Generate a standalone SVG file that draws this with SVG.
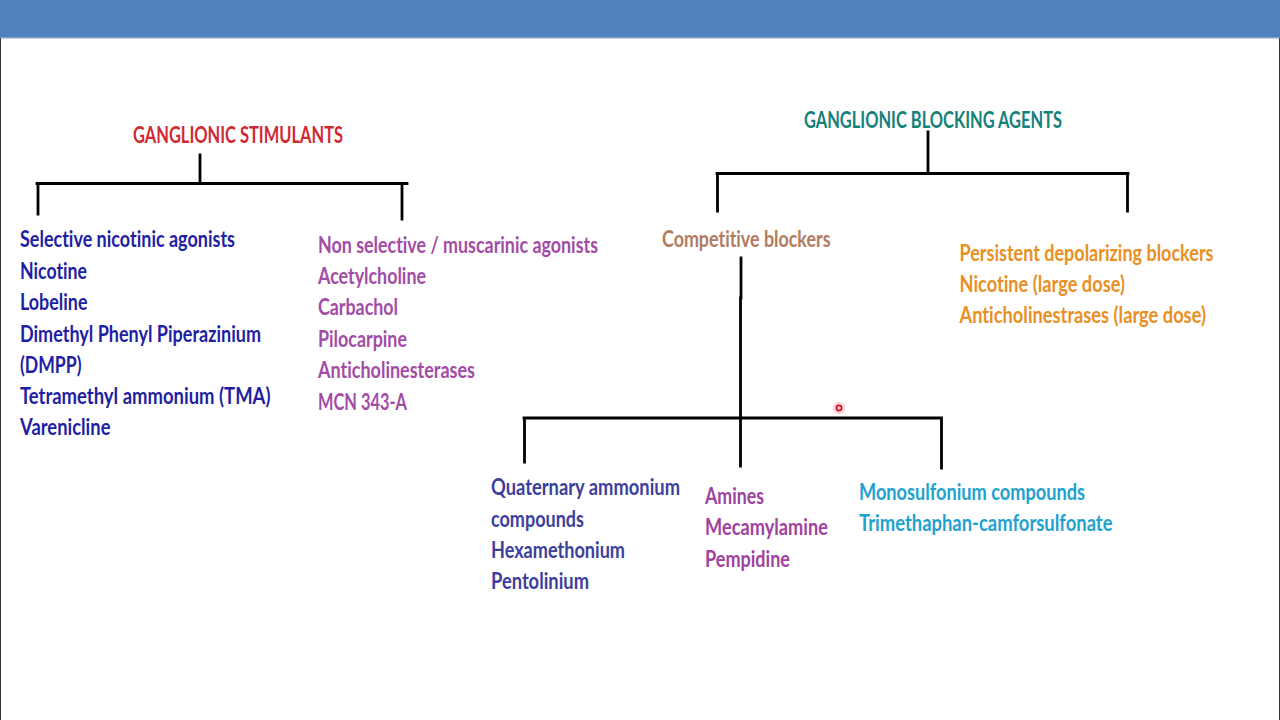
<svg xmlns="http://www.w3.org/2000/svg" width="1280" height="720" viewBox="0 0 1280 720">
<style>
text{font-family:Lato,"Liberation Sans",sans-serif;font-weight:bold;font-size:22px;font-variant-ligatures:none}
.ln{stroke:#000;stroke-width:2.8;fill:none;stroke-linecap:square}
.red{fill:#cf2a33}.teal{fill:#15817a}.navy{fill:#1f1fa3}.purp{fill:#a24ca6}
.brown{fill:#b27c60}.orange{fill:#e98f24}.slate{fill:#3c3f9c}.mag{fill:#a042a0}.cyan{fill:#1ea2cf}
</style>
<rect x="0" y="0" width="1280" height="720" fill="#fff"/>
<rect x="0" y="0" width="1280" height="38" fill="#4f81bd"/>
<rect x="0" y="37" width="1280" height="1.5" fill="#7ea3cc"/>
<line x1="0.5" y1="38" x2="0.5" y2="720" stroke="#333" stroke-width="1"/>
<line x1="1279.5" y1="38" x2="1279.5" y2="720" stroke="#333" stroke-width="1"/>

<g id="connectors">
<path class="ln" d="M200 155 V183.5 M37 183.5 H407 M38 183.5 V214 M402 183.5 V219"/>
<path class="ln" d="M928 132 V173.5 M717 173.5 H1128 M717.5 173.5 V211 M1127.5 173.5 V211"/>
<path class="ln" d="M741 258 V298 M740.5 298 V418"/>
<path class="ln" d="M524 418 H941.5 M524.5 418 V462 M740.5 418 V466 M941.5 418 V468"/>
</g>

<g id="stimulants">
<text class="red" x="133" y="143" textLength="210" lengthAdjust="spacingAndGlyphs">GANGLIONIC STIMULANTS</text>
</g>
<g id="selective">
<text class="navy" x="20" y="247" textLength="215" lengthAdjust="spacingAndGlyphs">Selective nicotinic agonists</text>
<text class="navy" x="20" y="278.5" textLength="67" lengthAdjust="spacingAndGlyphs">Nicotine</text>
<text class="navy" x="20" y="310" textLength="67.5" lengthAdjust="spacingAndGlyphs">Lobeline</text>
<text class="navy" x="20" y="341.5" textLength="241" lengthAdjust="spacingAndGlyphs">Dimethyl Phenyl Piperazinium</text>
<text class="navy" x="20" y="372.5" textLength="61.5" lengthAdjust="spacingAndGlyphs">(DMPP)</text>
<text class="navy" x="20" y="404" textLength="250.5" lengthAdjust="spacingAndGlyphs">Tetramethyl ammonium (TMA)</text>
<text class="navy" x="20" y="435" textLength="90.5" lengthAdjust="spacingAndGlyphs">Varenicline</text>
</g>
<g id="nonselective">
<text class="purp" x="318" y="252.5" textLength="280" lengthAdjust="spacingAndGlyphs">Non selective / muscarinic agonists</text>
<text class="purp" x="318" y="284" textLength="108" lengthAdjust="spacingAndGlyphs">Acetylcholine</text>
<text class="purp" x="318" y="315" textLength="80" lengthAdjust="spacingAndGlyphs">Carbachol</text>
<text class="purp" x="318" y="346.5" textLength="89" lengthAdjust="spacingAndGlyphs">Pilocarpine</text>
<text class="purp" x="318" y="378" textLength="157" lengthAdjust="spacingAndGlyphs">Anticholinesterases</text>
<text class="purp" x="318" y="409.5" textLength="89" lengthAdjust="spacingAndGlyphs">MCN 343-A</text>
</g>

<g id="blocking">
<text class="teal" x="804" y="127.5" textLength="258" lengthAdjust="spacingAndGlyphs">GANGLIONIC BLOCKING AGENTS</text>
</g>
<g id="competitive">
<text class="brown" x="662" y="247" textLength="168.5" lengthAdjust="spacingAndGlyphs">Competitive blockers</text>
</g>
<g id="persistent">
<text class="orange" x="959.5" y="260.5" textLength="254" lengthAdjust="spacingAndGlyphs">Persistent depolarizing blockers</text>
<text class="orange" x="959.5" y="291.5" textLength="165.5" lengthAdjust="spacingAndGlyphs">Nicotine (large dose)</text>
<text class="orange" x="959.5" y="322.5" textLength="246.5" lengthAdjust="spacingAndGlyphs">Anticholinestrases (large dose)</text>
</g>
<g id="quaternary">
<text class="slate" x="491" y="495" textLength="189" lengthAdjust="spacingAndGlyphs">Quaternary ammonium</text>
<text class="slate" x="491" y="526.5" textLength="93" lengthAdjust="spacingAndGlyphs">compounds</text>
<text class="slate" x="491" y="558" textLength="134" lengthAdjust="spacingAndGlyphs">Hexamethonium</text>
<text class="slate" x="491" y="589" textLength="98" lengthAdjust="spacingAndGlyphs">Pentolinium</text>
</g>
<g id="amines">
<text class="mag" x="705" y="503.5" textLength="59" lengthAdjust="spacingAndGlyphs">Amines</text>
<text class="mag" x="705" y="535" textLength="123" lengthAdjust="spacingAndGlyphs">Mecamylamine</text>
<text class="mag" x="705" y="566.5" textLength="85" lengthAdjust="spacingAndGlyphs">Pempidine</text>
</g>
<g id="monosulfonium">
<text class="cyan" x="859" y="499.5" textLength="226" lengthAdjust="spacingAndGlyphs">Monosulfonium compounds</text>
<text class="cyan" x="859" y="530.5" textLength="253.5" lengthAdjust="spacingAndGlyphs">Trimethaphan-camforsulfonate</text>
</g>

<circle cx="839" cy="408" r="6" fill="#f7c6cc" opacity="0.8"/>
<circle cx="839" cy="408" r="2.6" fill="none" stroke="#d0102a" stroke-width="1.6"/>
</svg>
